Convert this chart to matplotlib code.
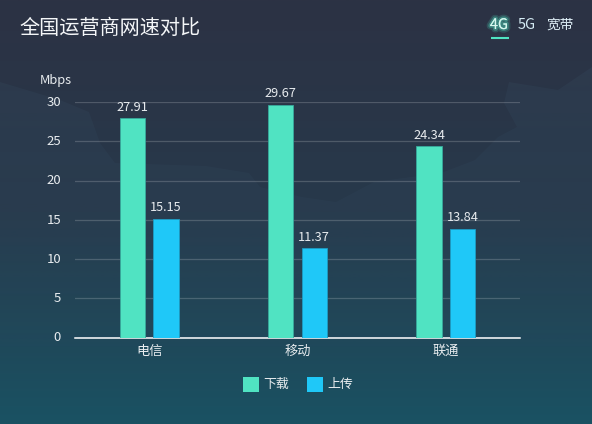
import numpy as np
import matplotlib
matplotlib.use('Agg')
import matplotlib.pyplot as plt
import matplotlib.patheffects as pe
from matplotlib.colors import LinearSegmentedColormap, to_rgb
from matplotlib.patches import Polygon, Rectangle
from matplotlib.transforms import ScaledTranslation

plt.rcParams['font.family'] = ['Noto Sans CJK SC', 'DejaVu Sans']

# data
categories = ['电信', '移动', '联通']
download = [27.91, 29.67, 24.34]
upload = [15.15, 11.37, 13.84]
y_ticks = [0, 5, 10, 15, 20, 25, 30]
tabs = ['4G', '5G', '宽带']

W, H = 592, 424
GREEN = '#50e3c2'
BLUE = '#1fc8f8'
TEXT = '#e8ecef'

fig = plt.figure(figsize=(W / 100, H / 100), dpi=100)

# background gradient, top to bottom
bg = fig.add_axes([0, 0, 1, 1], zorder=0)
cmap = LinearSegmentedColormap.from_list('bg', ['#2c3244', '#27394b', '#1a5263'])
bg.imshow(np.linspace(0, 1, 256).reshape(-1, 1), cmap=cmap, aspect='auto', extent=[0, W, H, 0])

# faint map behind the chart: lighter land below this rough outline, fading downwards
outline = [(0, 82), (60, 100), (89, 112), (100, 143), (115, 163), (206, 166), (249, 173),
           (260, 187), (302, 197), (336, 202), (374, 182), (441, 173), (475, 160), (498, 137),
           (517, 127), (504, 103), (509, 82), (558, 90), (592, 67), (592, H), (0, H)]
land = Polygon(outline, closed=True, transform=bg.transData, fc='none', ec='none')
bg.add_patch(land)
fade = np.zeros((256, 1, 4))
fade[..., :3] = to_rgb('#4a6f8a')
fade[:, 0, 3] = np.linspace(0.11, 0.0, 256)
overlay = bg.imshow(fade, aspect='auto', extent=[0, W, H, 60])
overlay.set_clip_path(land)
bg.set_xlim(0, W)
bg.set_ylim(H, 0)
bg.axis('off')

# plot area in pixels: x 75-520, y 102-337.5
ax = fig.add_axes([75 / W, 1 - 337.5 / H, 445 / W, 235.5 / H], zorder=1)
ax.patch.set_alpha(0)

x = np.arange(len(categories))
bar_w = 25.5 / 148.3
offset = 16.75 / 148.3
b1 = ax.bar(x - offset, download, bar_w, color=GREEN, edgecolor='#38a99c', linewidth=0.6, label='下载', zorder=3)
b2 = ax.bar(x + offset, upload, bar_w, color=BLUE, edgecolor='#1d9cc4', linewidth=0.6, label='上传', zorder=3)

for bars in (b1, b2):
    for r in bars:
        ax.annotate(f'{r.get_height():.2f}', (r.get_x() + r.get_width() / 2, r.get_height()),
                    xytext=(0, 3.3), textcoords='offset points', ha='center', va='bottom',
                    color=TEXT, fontsize=9.2)

ax.set_xlim(-0.5, 2.5)
ax.set_ylim(0, 30)
ax.set_yticks(y_ticks)
ax.set_xticks(x)
ax.set_xticklabels(categories)
ax.tick_params(axis='both', length=0, colors=TEXT, labelsize=9.5)
ax.tick_params(axis='y', pad=10)
ax.tick_params(axis='x', pad=5.2)
# y tick labels sit about a pixel above their gridlines
nudge = ScaledTranslation(0, 1.2 / 100, fig.dpi_scale_trans)
for lab in ax.get_yticklabels():
    lab.set_transform(lab.get_transform() + nudge)
ax.grid(axis='y', color='#ffffff', alpha=0.18, linewidth=0.9, zorder=1)
ax.set_axisbelow(True)
for s in ['top', 'left', 'right']:
    ax.spines[s].set_visible(False)
ax.spines['bottom'].set_color('white')
ax.spines['bottom'].set_linewidth(1.1)

# title, unit and tabs, placed in pixels on the background axes
bg.text(19, 28, '全国运营商网速对比', color='#f4f6f8', fontsize=14.5, va='center', ha='left')
bg.text(40, 80.5, 'Mbps', color=TEXT, fontsize=9.3, va='center', ha='left')

glow = [pe.withStroke(linewidth=5, foreground=GREEN, alpha=0.18),
        pe.withStroke(linewidth=2.5, foreground=GREEN, alpha=0.35)]
bg.text(499, 25, tabs[0], color='#d8f5ee', fontsize=10.5, va='center', ha='center', path_effects=glow)
bg.plot([491, 509], [37.5, 37.5], color=GREEN, lw=1.5, solid_capstyle='butt')
bg.text(527, 25, tabs[1], color='#d5ecf5', fontsize=10.5, va='center', ha='center')
bg.text(560, 25, tabs[2], color='#e2f2fa', fontsize=9.8, va='center', ha='center')

# legend drawn by hand to sit below the axis
for px, col, lab in [(243, GREEN, '下载'), (307, BLUE, '上传')]:
    bg.add_patch(Rectangle((px, 377), 16, 15, color=col, lw=0))
    bg.text(px + 20, 384, lab, color=TEXT, fontsize=9.3, va='center', ha='left')

fig.savefig('out.png', dpi=100)
